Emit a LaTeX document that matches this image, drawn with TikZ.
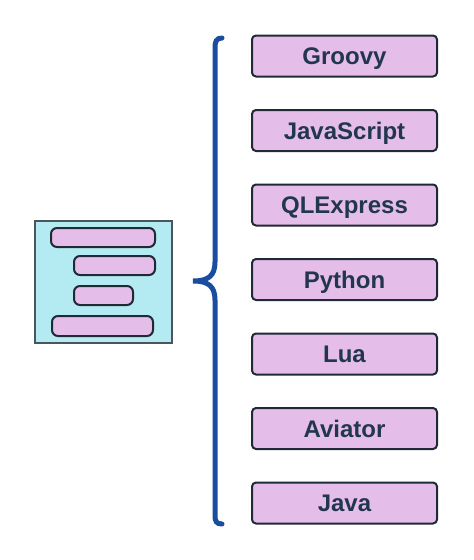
\documentclass[tikz,border=0pt]{standalone}
\usepackage{fontspec}
\setmainfont{Liberation Sans}
\definecolor{boxfill}{HTML}{E4BEE8}
\definecolor{boxline}{HTML}{1F2A36}
\definecolor{txt}{HTML}{223650}
\definecolor{cyanfill}{HTML}{B4EBF2}
\definecolor{bracecol}{HTML}{1A4DA0}
\begin{document}
\begin{tikzpicture}[x=1pt,y=-1pt,
  lang/.style={draw=boxline,line width=2pt,fill=boxfill,rounded corners=4pt,
    minimum width=185pt,minimum height=41pt,inner sep=0pt,
    text height=17.2pt,text depth=0pt,
    font=\fontsize{24}{28}\selectfont\bfseries,text=txt},
  bar/.style={draw=boxline,line width=2pt,fill=boxfill,rounded corners=6pt}]
\useasboundingbox (0,0) rectangle (474,560);
% left panel
\draw[draw=boxline!80,line width=2pt,fill=cyanfill] (35,221) rectangle (172,343);
\draw[bar] (51,228) rectangle (155,247);
\draw[bar] (74,256) rectangle (155,275);
\draw[bar] (74,286) rectangle (133,305);
\draw[bar] (52,316) rectangle (153,336);
% brace
\draw[bracecol,line width=5pt,line cap=round]
  (222,38) .. controls (216,38) and (215,42) .. (215,48)
  -- (215,262) .. controls (215,276) and (208,281) .. (193,281)
  .. controls (208,281) and (215,286) .. (215,300)
  -- (215,515) .. controls (215,521) and (216,524) .. (222,524);
% languages
\foreach \n/\t [count=\i from 0] in {g/Groovy,js/JavaScript,ql/QLExpress,py/Python,lua/Lua,av/Aviator,java/Java}{
  \node[lang] (\n) at (344.5,{56+74.5*\i}) {\t};
}
\end{tikzpicture}
\end{document}
